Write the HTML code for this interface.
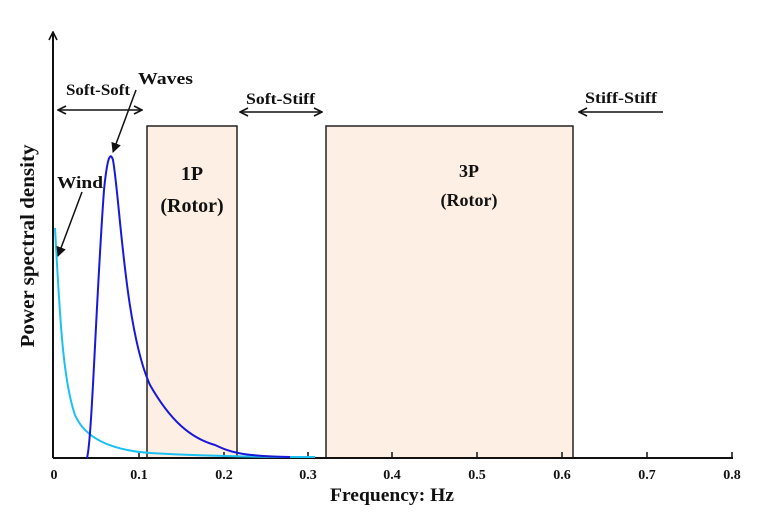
<!DOCTYPE html>
<html><head><style>body{margin:0;background:#fff}svg{display:block}text{font-family:"Liberation Serif",serif;font-weight:bold;fill:#111}</style></head><body>
<svg width="760" height="525" viewBox="0 0 760 525">
<defs><marker id="a" markerWidth="10" markerHeight="10" refX="9" refY="5" orient="auto-start-reverse" markerUnits="userSpaceOnUse"><path d="M1,1 L9,5 L1,9" fill="none" stroke="#111" stroke-width="1.6"/></marker>
<marker id="b" markerWidth="10" markerHeight="10" refX="9" refY="5" orient="auto" markerUnits="userSpaceOnUse"><path d="M0,0 L10,5 L0,10 Z" fill="#111"/></marker></defs>
<rect x="147" y="126" width="90" height="332" fill="#fdefe3" stroke="#222" stroke-width="1.5"/>
<rect x="326" y="126" width="247" height="332" fill="#fdefe3" stroke="#222" stroke-width="1.5"/>
<line x1="53" y1="458" x2="53" y2="32" stroke="#111" stroke-width="2" marker-end="url(#a)"/>
<line x1="53" y1="458" x2="733" y2="458" stroke="#111" stroke-width="2"/>
<g stroke="#111" stroke-width="1.5">
<line x1="139" y1="458" x2="139" y2="452"/><line x1="224" y1="458" x2="224" y2="452"/><line x1="308" y1="458" x2="308" y2="452"/><line x1="392" y1="458" x2="392" y2="452"/><line x1="477" y1="458" x2="477" y2="452"/><line x1="562" y1="458" x2="562" y2="452"/><line x1="647" y1="458" x2="647" y2="452"/><line x1="732" y1="458" x2="732" y2="452"/>
</g>
<g font-size="14" text-anchor="middle">
<text x="54" y="479">0</text><text x="139" y="479">0.1</text><text x="224" y="479">0.2</text><text x="308" y="479">0.3</text><text x="392" y="479">0.4</text><text x="477" y="479">0.5</text><text x="562" y="479">0.6</text><text x="647" y="479">0.7</text><text x="732" y="479">0.8</text>
</g>
<text x="392" y="501" font-size="19" text-anchor="middle" textLength="124" lengthAdjust="spacingAndGlyphs">Frequency: Hz</text>
<text transform="translate(34,246) rotate(-90)" font-size="20" text-anchor="middle" textLength="203" lengthAdjust="spacingAndGlyphs">Power spectral density</text>
<path d="M55,228 C60,320 63,380 75,415 C85,438 110,450 150,453 C200,456 260,457 315,457" fill="none" stroke="#1cc0f2" stroke-width="2"/>
<path d="M87,458 C92,440 96,300 104,190 C107,160 110,150 113,160 C120,200 125,330 150,385 C170,420 190,438 215,445 C230,452 240,456 290,457" fill="none" stroke="#1818d8" stroke-width="2"/>
<g stroke="#111" stroke-width="1.5" fill="none">
<line x1="58" y1="110" x2="142" y2="110" marker-end="url(#a)" marker-start="url(#a)"/>
<line x1="240" y1="112" x2="322" y2="112" marker-end="url(#a)" marker-start="url(#a)"/>
<line x1="663" y1="112" x2="579" y2="112" marker-end="url(#a)"/>
<line x1="136" y1="90" x2="113" y2="152" marker-end="url(#b)"/>
<line x1="82" y1="192" x2="58" y2="256" marker-end="url(#b)"/>
</g>
<g font-size="16">
<text x="66" y="95" textLength="64" lengthAdjust="spacingAndGlyphs">Soft-Soft</text>
<text x="138" y="84" font-size="17" textLength="55" lengthAdjust="spacingAndGlyphs">Waves</text>
<text x="246" y="104" textLength="69" lengthAdjust="spacingAndGlyphs">Soft-Stiff</text>
<text x="585" y="103" textLength="72" lengthAdjust="spacingAndGlyphs">Stiff-Stiff</text>
<text x="57" y="188" font-size="17" textLength="46" lengthAdjust="spacingAndGlyphs">Wind</text>
</g>
<g font-size="20" text-anchor="middle">
<text x="192" y="180">1P</text><text x="192" y="212">(Rotor)</text>
<text x="469" y="177" font-size="18">3P</text><text x="469" y="206" font-size="18">(Rotor)</text>
</g>
</svg>
</body></html>
